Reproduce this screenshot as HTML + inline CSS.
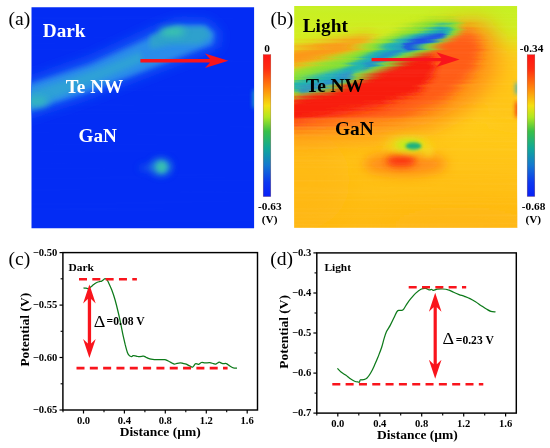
<!DOCTYPE html>
<html><head><meta charset="utf-8"><title>Figure</title>
<style>
html,body{margin:0;padding:0;background:#fff;}
body{width:550px;height:448px;overflow:hidden;}
svg{display:block;}
text{font-family:"Liberation Serif",serif;fill:#000;}
.pl{font-size:19.6px;}
.wl{font-size:19.2px;font-weight:bold;fill:#fff;}
.bl{font-size:19.4px;font-weight:bold;fill:#000;}
.cb{font-size:11.3px;font-weight:bold;}
.tk{font-size:10.6px;font-weight:bold;}
.il{font-size:11.4px;font-weight:bold;}
.dl{font-size:11.6px;font-weight:bold;}
.ax{font-size:13.5px;font-weight:bold;}
</style></head><body>
<svg width="550" height="448" viewBox="0 0 550 448">
<defs>
<filter id="b15" filterUnits="userSpaceOnUse" x="0" y="0" width="550" height="448"><feGaussianBlur stdDeviation="1.5"/></filter>
<filter id="b2" filterUnits="userSpaceOnUse" x="0" y="0" width="550" height="448"><feGaussianBlur stdDeviation="2"/></filter>
<filter id="b25" filterUnits="userSpaceOnUse" x="0" y="0" width="550" height="448"><feGaussianBlur stdDeviation="2.5"/></filter>
<filter id="b3" filterUnits="userSpaceOnUse" x="0" y="0" width="550" height="448"><feGaussianBlur stdDeviation="3.5"/></filter>
<filter id="b6" filterUnits="userSpaceOnUse" x="0" y="0" width="550" height="448"><feGaussianBlur stdDeviation="6"/></filter>
<filter id="b10" filterUnits="userSpaceOnUse" x="0" y="0" width="550" height="448"><feGaussianBlur stdDeviation="10"/></filter>
<filter id="b16" filterUnits="userSpaceOnUse" x="0" y="0" width="550" height="448"><feGaussianBlur stdDeviation="16"/></filter>
<filter id="streak" x="0" y="0" width="100%" height="100%">
  <feTurbulence type="fractalNoise" baseFrequency="0.004 0.35" numOctaves="2" seed="3" result="n"/>
  <feColorMatrix type="matrix" values="0 0 0 0 1  0 0 0 0 1  0 0 0 0 1  0.55 0 0 0 -0.22"/>
</filter>
<filter id="jag" filterUnits="userSpaceOnUse" x="280" y="0" width="250" height="240">
  <feTurbulence type="fractalNoise" baseFrequency="0.0015 0.45" numOctaves="1" seed="7" result="n"/>
  <feDisplacementMap in="SourceGraphic" in2="n" scale="9" xChannelSelector="R" yChannelSelector="A"/>
</filter>
<clipPath id="ca"><rect x="31.5" y="7.3" width="222.6" height="221"/></clipPath>
<clipPath id="cb"><rect x="294.2" y="6" width="222.9" height="221.8"/></clipPath>
<linearGradient id="jet" x1="0" y1="0" x2="0" y2="1">
 <stop offset="0" stop-color="#ff1414"/>
 <stop offset="0.10" stop-color="#ff2c10"/>
 <stop offset="0.24" stop-color="#ff8a0c"/>
 <stop offset="0.36" stop-color="#f4e010"/>
 <stop offset="0.44" stop-color="#b0e820"/>
 <stop offset="0.54" stop-color="#38c048"/>
 <stop offset="0.66" stop-color="#10a898"/>
 <stop offset="0.78" stop-color="#1478d0"/>
 <stop offset="0.90" stop-color="#0c38f0"/>
 <stop offset="1" stop-color="#0820f8"/>
</linearGradient>
<linearGradient id="bgb" x1="0" y1="0" x2="0" y2="1">
 <stop offset="0" stop-color="#c6f022"/>
 <stop offset="0.12" stop-color="#d2ee20"/>
 <stop offset="0.28" stop-color="#eee61c"/>
 <stop offset="0.45" stop-color="#ffd01a"/>
 <stop offset="0.7" stop-color="#ffc416"/>
 <stop offset="1" stop-color="#ffba12"/>
</linearGradient>
<linearGradient id="nwa" gradientUnits="userSpaceOnUse" x1="31" y1="100" x2="215" y2="34">
 <stop offset="0" stop-color="#2a9cdc"/>
 <stop offset="0.5" stop-color="#2890e0"/>
 <stop offset="0.8" stop-color="#2aa6cc"/>
 <stop offset="1" stop-color="#2aa0d0"/>
</linearGradient>
</defs>
<rect width="550" height="448" fill="#fff"/>

<!-- panel a -->
<g clip-path="url(#ca)">
<rect x="31" y="7" width="224" height="222" fill="#032cf4"/>
<rect x="31" y="7" width="224" height="222" fill="#fff" filter="url(#streak)" opacity="0.05"/>
<g filter="url(#b6)">
<polygon points="10,86 90,58 155,28 178,20 208,21 220,32 218,47 200,54 130,81 90,96 10,122" fill="#1a5cf4" opacity="0.9"/>
</g>
<g filter="url(#b25)">
<polygon points="10,91 90,65 150,38 178,26 205,26 214,33 212,44 196,50 130,76 90,91 10,117" fill="#2b8cea" opacity="1"/>
</g>
<g filter="url(#b25)">
<polygon points="10,98 60,82 100,68 140,52 143,62 100,80 60,96 10,113" fill="#30a4d4" opacity="0.85"/>
<polygon points="150,36 175,27 205,27 211,36 200,44 170,45 150,49" fill="#2ea4c8" opacity="0.85"/>
</g>
<g filter="url(#b3)">
<ellipse cx="172" cy="31.5" rx="13" ry="4.5" fill="#3ccca4" opacity="0.85"/>
<ellipse cx="38" cy="102" rx="11" ry="5" fill="#36c0b4" opacity="0.75"/>
<ellipse cx="161" cy="167" rx="10.5" ry="8.5" fill="#2ca0d0" opacity="0.95"/>
<ellipse cx="148" cy="168" rx="9" ry="3" fill="#2c80e0" opacity="0.5"/>
</g>
<g filter="url(#b2)"><ellipse cx="161.5" cy="167" rx="5" ry="5.5" fill="#38c4ac" opacity="0.85"/><rect x="253.3" y="90" width="3" height="18" fill="#30d0b0"/></g>
</g>
<polygon points="140.4,59.0 210.0,59.0 205.0,53.6 228.4,60.8 205.0,68.0 210.0,62.5 140.4,62.5" fill="#f9141c"/>
<text class="wl" x="42.8" y="36.6">Dark</text>
<text class="wl" x="65.8" y="92.5">Te NW</text>
<text class="wl" x="78.6" y="141.8">GaN</text>
<text class="pl" x="8.6" y="25.2">(a)</text>

<!-- colorbar a -->
<rect x="263.2" y="54.6" width="7.6" height="142" fill="url(#jet)" stroke="#7a2a10" stroke-opacity="0.5" stroke-width="0.5"/>
<text class="cb" x="267.2" y="51.6" text-anchor="middle">0</text>
<text class="cb" x="269.8" y="210" text-anchor="middle">-0.63</text>
<text class="cb" x="269.7" y="222.6" text-anchor="middle">(V)</text>

<!-- panel b -->
<g clip-path="url(#cb)">
<rect x="294" y="6" width="224" height="222" fill="url(#bgb)"/>
<g filter="url(#b16)">
<ellipse cx="300" cy="180" rx="50" ry="50" fill="#ffb410" opacity="0.6"/>
<ellipse cx="460" cy="225" rx="80" ry="18" fill="#ffb410" opacity="0.5"/>
</g>
<g filter="url(#b10)">
<polygon points="498,48 530,44 530,130 480,120" fill="#ffc416" opacity="0.95"/>
<polygon points="280,96 380,58 450,24 482,20 500,38 498,76 476,106 430,130 380,140 280,144" fill="#ff9416" opacity="0.95"/>
</g>
<g filter="url(#jag)">
<g filter="url(#b6)">
<polygon points="280,100 380,64 445,35 470,29 483,44 475,72 444,102 400,117 280,130" fill="#ff5c14"/>
<polygon points="280,52 330,42 365,35 380,39 340,56 280,70" fill="#ff8c14"/>
</g>
<g filter="url(#b3)">
<polygon points="280,104 361,73 415,52 432,54 436,72 418,93 380,106 280,122" fill="#f81c10"/>
</g>
<g filter="url(#b3)">
<polygon points="280,74 350,54 400,30 430,20 456,20 462,28 454,36 430,51 380,71 330,91 280,99" fill="#84e034"/>
</g>
<g filter="url(#b2)">
<polygon points="280,84 340,69 400,38 440,25 453,27 448,35 420,48 380,64 330,84 280,93" fill="#22b4b0"/>
</g>
<g filter="url(#b2)">
<polygon points="402,45 416,38 443,31 446,37 424,45 406,51" fill="#1a4ce6"/>
<polygon points="362,66 384,54 400,47 403,52 384,60 364,70" fill="#2478dc" opacity="0.75"/>
<polygon points="296,89 330,79 352,71 354,76 330,86 300,94" fill="#2484d8" opacity="0.85"/>
</g>
</g>
<g filter="url(#b6)">
<ellipse cx="405" cy="164" rx="42" ry="11" fill="#ff8614" opacity="0.95"/>
<ellipse cx="408" cy="145" rx="22" ry="6" fill="#e4ee1c" opacity="0.9"/>
</g>
<g filter="url(#b3)">
<ellipse cx="401" cy="161" rx="15" ry="5.5" fill="#fb2c10" opacity="0.95"/>
<ellipse cx="409" cy="145" rx="13" ry="4.5" fill="#b4f020" opacity="0.95"/>
<ellipse cx="428" cy="152" rx="4" ry="5" fill="#f4e428" opacity="0.8"/>
</g>
<g filter="url(#b15)">
<ellipse cx="413.5" cy="146" rx="8" ry="3.6" fill="#1cb080"/>
</g>
<rect x="294" y="6" width="224" height="222" fill="#fff" filter="url(#streak)" opacity="0.2"/>
<g filter="url(#b2)"><rect x="515.5" y="83" width="4" height="11" fill="#30b0d0"/><rect x="515.8" y="102" width="4" height="15" fill="#f02818"/></g>
</g>
<polygon points="371.6,58.0 441.4,58.0 436.4,52.3 459.6,59.6 436.4,66.9 441.4,61.2 371.6,61.2" fill="#f9141c"/>
<text class="bl" x="302.7" y="31.8">Light</text>
<text class="bl" x="306" y="92">Te NW</text>
<text class="bl" x="335" y="135">GaN</text>
<text class="pl" x="270.5" y="25.4">(b)</text>

<!-- colorbar b -->
<rect x="527.2" y="54.7" width="7.6" height="141.8" fill="url(#jet)" stroke="#7a2a10" stroke-opacity="0.5" stroke-width="0.5"/>
<text class="cb" x="531.6" y="51.6" text-anchor="middle">-0.34</text>
<text class="cb" x="533.6" y="209.9" text-anchor="middle">-0.68</text>
<text class="cb" x="533.3" y="223" text-anchor="middle">(V)</text>

<!-- plot c -->
<rect x="62.9" y="252.6" width="194.6" height="157.4" fill="#fff" stroke="#000" stroke-width="1.45"/>
<line x1="83.5" y1="410.0" x2="83.5" y2="413.5" stroke="#000" stroke-width="1.2"/>
<line x1="124.4" y1="410.0" x2="124.4" y2="413.5" stroke="#000" stroke-width="1.2"/>
<line x1="165.3" y1="410.0" x2="165.3" y2="413.5" stroke="#000" stroke-width="1.2"/>
<line x1="206.3" y1="410.0" x2="206.3" y2="413.5" stroke="#000" stroke-width="1.2"/>
<line x1="247.2" y1="410.0" x2="247.2" y2="413.5" stroke="#000" stroke-width="1.2"/>
<line x1="63.0" y1="410.0" x2="63.0" y2="412.3" stroke="#000" stroke-width="1.1"/>
<line x1="104.0" y1="410.0" x2="104.0" y2="412.3" stroke="#000" stroke-width="1.1"/>
<line x1="144.9" y1="410.0" x2="144.9" y2="412.3" stroke="#000" stroke-width="1.1"/>
<line x1="185.8" y1="410.0" x2="185.8" y2="412.3" stroke="#000" stroke-width="1.1"/>
<line x1="226.7" y1="410.0" x2="226.7" y2="412.3" stroke="#000" stroke-width="1.1"/>
<line x1="59.5" y1="252.6" x2="62.9" y2="252.6" stroke="#000" stroke-width="1.2"/>
<line x1="59.5" y1="305.1" x2="62.9" y2="305.1" stroke="#000" stroke-width="1.2"/>
<line x1="59.5" y1="357.5" x2="62.9" y2="357.5" stroke="#000" stroke-width="1.2"/>
<line x1="59.5" y1="410.0" x2="62.9" y2="410.0" stroke="#000" stroke-width="1.2"/>
<line x1="60.6" y1="278.8" x2="62.9" y2="278.8" stroke="#000" stroke-width="1.1"/>
<line x1="60.6" y1="331.3" x2="62.9" y2="331.3" stroke="#000" stroke-width="1.1"/>
<line x1="60.6" y1="383.8" x2="62.9" y2="383.8" stroke="#000" stroke-width="1.1"/>
<text class="tk" x="83.5" y="424.0" text-anchor="middle">0.0</text>
<text class="tk" x="124.4" y="424.0" text-anchor="middle">0.4</text>
<text class="tk" x="165.3" y="424.0" text-anchor="middle">0.8</text>
<text class="tk" x="206.3" y="424.0" text-anchor="middle">1.2</text>
<text class="tk" x="247.2" y="424.0" text-anchor="middle">1.6</text>
<text class="tk" x="57.3" y="255.7" text-anchor="end">−0.50</text>
<text class="tk" x="57.3" y="308.2" text-anchor="end">−0.55</text>
<text class="tk" x="57.3" y="360.6" text-anchor="end">−0.60</text>
<text class="tk" x="57.3" y="413.1" text-anchor="end">−0.65</text>
<path d="M83.5,287.8 C83.9,287.9 85.2,288.1 86.0,288.2 C86.8,288.3 87.7,288.8 88.5,288.6 C89.3,288.4 90.1,287.5 91.0,286.8 C91.9,286.1 93.0,284.9 94.0,284.2 C95.0,283.4 96.4,282.7 97.3,282.3 C98.2,281.9 98.8,281.8 99.5,281.6 C100.2,281.4 101.0,281.4 101.7,281.1 C102.4,280.8 102.9,280.2 103.5,279.8 C104.1,279.4 104.5,278.5 105.1,278.5 C105.6,278.5 106.2,279.0 106.8,279.6 C107.3,280.2 107.6,280.6 108.4,282.3 C109.2,284.0 110.7,287.1 111.8,290.0 C112.9,292.9 114.0,296.1 115.1,300.0 C116.2,303.9 117.6,309.6 118.5,313.5 C119.4,317.4 120.0,320.0 120.7,323.5 C121.4,327.0 122.2,331.1 122.9,334.6 C123.7,338.1 124.5,341.7 125.2,344.7 C126.0,347.7 126.7,350.6 127.4,352.5 C128.1,354.4 128.9,355.2 129.6,355.9 C130.3,356.6 131.2,356.5 131.8,356.5 C132.4,356.5 132.4,355.8 133.0,355.7 C133.6,355.6 134.4,355.7 135.2,355.8 C136.0,355.9 136.6,356.4 137.7,356.5 C138.8,356.6 140.9,356.4 141.9,356.3 C142.9,356.2 142.9,356.0 143.6,356.1 C144.3,356.2 145.2,356.8 146.0,357.2 C146.8,357.6 147.6,358.1 148.4,358.4 C149.2,358.7 150.0,359.0 151.0,359.2 C152.0,359.4 153.0,359.6 154.3,359.6 C155.6,359.7 157.2,359.5 159.0,359.5 C160.8,359.5 163.6,359.5 164.9,359.6 C166.2,359.8 166.2,360.0 167.0,360.4 C167.8,360.8 168.8,361.3 169.6,361.7 C170.4,362.1 171.2,362.6 172.0,363.0 C172.8,363.4 173.6,364.0 174.4,364.1 C175.2,364.2 176.0,363.6 177.0,363.4 C178.0,363.2 179.3,362.9 180.3,362.9 C181.3,362.9 182.0,363.2 183.0,363.4 C184.0,363.6 185.3,363.8 186.2,364.1 C187.1,364.4 187.7,365.0 188.5,365.4 C189.3,365.8 190.2,366.2 190.9,366.5 C191.6,366.8 192.1,367.3 192.6,367.2 C193.1,367.1 193.5,366.2 194.0,365.6 C194.5,365.0 194.9,363.8 195.7,363.6 C196.4,363.4 197.5,364.5 198.5,364.3 C199.5,364.1 200.5,362.7 201.6,362.5 C202.7,362.3 203.7,362.9 205.1,362.9 C206.5,362.9 208.4,362.6 209.8,362.7 C211.2,362.8 212.4,363.4 213.4,363.6 C214.4,363.8 215.0,364.2 215.7,364.1 C216.4,364.0 216.9,363.3 217.5,363.0 C218.1,362.7 218.4,362.1 219.3,362.2 C220.2,362.3 221.6,363.4 222.8,363.6 C224.0,363.8 225.2,363.2 226.4,363.6 C227.6,364.0 228.7,365.3 229.9,366.0 C231.1,366.7 232.3,367.5 233.5,367.9 C234.7,368.2 236.4,368.1 237.0,368.1" fill="none" stroke="#0d7a1a" stroke-width="1.25" stroke-linejoin="round"/>
<line x1="79" y1="279.3" x2="136.9" y2="279.3" stroke="#f9141c" stroke-width="2.55" stroke-dasharray="8 5.32"/>
<line x1="76.5" y1="368.1" x2="227.6" y2="368.1" stroke="#f9141c" stroke-width="2.55" stroke-dasharray="8 5.32"/>
<polygon points="89.4,284.5 95.7,303.5 91.1,299.0 91.1,343.5 95.7,339.0 89.4,358.0 83.1,339.0 87.8,343.5 87.8,299.0 83.1,303.5" fill="#f9141c"/>
<text class="il" x="68.6" y="270.7">Dark</text>
<text transform="translate(93.8,326.5) scale(1.13,1)" style="font:16px 'Liberation Serif',serif">Δ</text>
<text class="dl" x="106.6" y="325.2">=0.08 V</text>
<text class="pl" x="8.6" y="265">(c)</text>
<text class="ax" transform="translate(29.4,329.7) rotate(-90)" text-anchor="middle">Potential (V)</text>
<text class="ax" x="160.3" y="435.7" text-anchor="middle">Distance (µm)</text>

<!-- plot d -->
<rect x="316.8" y="252.9" width="199.5" height="160.2" fill="#fff" stroke="#000" stroke-width="1.45"/>
<line x1="337.8" y1="413.1" x2="337.8" y2="416.6" stroke="#000" stroke-width="1.2"/>
<line x1="379.8" y1="413.1" x2="379.8" y2="416.6" stroke="#000" stroke-width="1.2"/>
<line x1="421.7" y1="413.1" x2="421.7" y2="416.6" stroke="#000" stroke-width="1.2"/>
<line x1="463.7" y1="413.1" x2="463.7" y2="416.6" stroke="#000" stroke-width="1.2"/>
<line x1="505.6" y1="413.1" x2="505.6" y2="416.6" stroke="#000" stroke-width="1.2"/>
<line x1="316.8" y1="413.1" x2="316.8" y2="415.40000000000003" stroke="#000" stroke-width="1.1"/>
<line x1="358.8" y1="413.1" x2="358.8" y2="415.40000000000003" stroke="#000" stroke-width="1.1"/>
<line x1="400.7" y1="413.1" x2="400.7" y2="415.40000000000003" stroke="#000" stroke-width="1.1"/>
<line x1="442.7" y1="413.1" x2="442.7" y2="415.40000000000003" stroke="#000" stroke-width="1.1"/>
<line x1="484.7" y1="413.1" x2="484.7" y2="415.40000000000003" stroke="#000" stroke-width="1.1"/>
<line x1="313.40000000000003" y1="252.9" x2="316.8" y2="252.9" stroke="#000" stroke-width="1.2"/>
<line x1="313.40000000000003" y1="293.0" x2="316.8" y2="293.0" stroke="#000" stroke-width="1.2"/>
<line x1="313.40000000000003" y1="333.0" x2="316.8" y2="333.0" stroke="#000" stroke-width="1.2"/>
<line x1="313.40000000000003" y1="373.1" x2="316.8" y2="373.1" stroke="#000" stroke-width="1.2"/>
<line x1="313.40000000000003" y1="413.1" x2="316.8" y2="413.1" stroke="#000" stroke-width="1.2"/>
<line x1="314.5" y1="272.9" x2="316.8" y2="272.9" stroke="#000" stroke-width="1.1"/>
<line x1="314.5" y1="313.0" x2="316.8" y2="313.0" stroke="#000" stroke-width="1.1"/>
<line x1="314.5" y1="353.0" x2="316.8" y2="353.0" stroke="#000" stroke-width="1.1"/>
<line x1="314.5" y1="393.1" x2="316.8" y2="393.1" stroke="#000" stroke-width="1.1"/>
<text class="tk" x="337.8" y="426.6" text-anchor="middle">0.0</text>
<text class="tk" x="379.8" y="426.6" text-anchor="middle">0.4</text>
<text class="tk" x="421.7" y="426.6" text-anchor="middle">0.8</text>
<text class="tk" x="463.7" y="426.6" text-anchor="middle">1.2</text>
<text class="tk" x="505.6" y="426.6" text-anchor="middle">1.6</text>
<text class="tk" x="311.2" y="256.0" text-anchor="end">−0.3</text>
<text class="tk" x="311.2" y="296.1" text-anchor="end">−0.4</text>
<text class="tk" x="311.2" y="336.1" text-anchor="end">−0.5</text>
<text class="tk" x="311.2" y="376.2" text-anchor="end">−0.6</text>
<text class="tk" x="311.2" y="416.2" text-anchor="end">−0.7</text>
<path d="M337.4,368.4 C338.0,369.0 339.6,371.0 341.0,372.1 C342.4,373.2 344.6,374.3 346.0,375.3 C347.4,376.3 348.2,377.2 349.6,378.2 C351.0,379.2 353.2,380.6 354.6,381.2 C356.0,381.8 357.2,381.9 358.0,382.0 C358.8,382.1 359.1,382.5 359.5,382.1 C359.9,381.8 359.6,380.3 360.2,379.9 C360.8,379.5 362.0,380.0 363.1,379.7 C364.2,379.4 365.6,379.3 366.8,378.2 C368.0,377.1 369.3,375.4 370.5,373.3 C371.7,371.2 373.0,368.6 374.2,365.9 C375.4,363.2 376.7,360.4 377.9,357.3 C379.1,354.2 380.6,350.6 381.6,347.5 C382.6,344.4 383.2,341.5 384.0,338.9 C384.8,336.2 385.5,333.9 386.5,331.6 C387.5,329.4 389.0,327.6 390.2,325.4 C391.4,323.1 392.7,320.4 393.8,318.1 C394.9,315.9 396.0,313.2 396.8,311.9 C397.6,310.6 397.9,310.6 398.7,310.4 C399.5,310.1 400.9,310.6 401.7,310.4 C402.5,310.2 402.8,310.2 403.7,309.0 C404.6,307.8 406.1,305.1 407.3,303.3 C408.5,301.5 409.6,300.0 411.0,298.4 C412.4,296.8 413.9,294.9 415.5,293.4 C417.1,291.9 419.2,290.0 420.9,289.2 C422.6,288.4 424.1,288.2 425.5,288.3 C426.9,288.4 428.1,289.6 429.1,289.8 C430.2,290.0 431.1,289.4 431.8,289.5 C432.6,289.6 432.7,290.4 433.6,290.4 C434.5,290.3 435.8,289.4 437.3,289.2 C438.8,289.0 440.9,288.9 442.7,289.0 C444.5,289.1 446.4,289.3 448.2,289.9 C450.0,290.4 451.8,291.5 453.6,292.3 C455.4,293.1 457.3,293.9 459.1,294.6 C460.9,295.3 462.7,295.6 464.5,296.3 C466.3,297.0 468.2,297.7 470.0,298.6 C471.8,299.5 473.7,300.6 475.5,301.7 C477.3,302.8 479.1,304.2 480.9,305.4 C482.7,306.6 484.7,308.0 486.4,309.0 C488.1,310.0 489.4,310.9 490.9,311.4 C492.4,311.9 494.7,311.8 495.5,311.9" fill="none" stroke="#0d7a1a" stroke-width="1.25" stroke-linejoin="round"/>
<line x1="408.7" y1="287.3" x2="466.2" y2="287.3" stroke="#f9141c" stroke-width="2.55" stroke-dasharray="8 5.32"/>
<line x1="332.3" y1="384.3" x2="483.3" y2="384.3" stroke="#f9141c" stroke-width="2.55" stroke-dasharray="8 5.32"/>
<polygon points="435.2,292.8 441.5,311.8 436.8,307.3 436.8,364.3 441.5,359.8 435.2,378.8 428.9,359.8 433.6,364.3 433.6,307.3 428.9,311.8" fill="#f9141c"/>
<text class="il" x="324.4" y="271.3">Light</text>
<text transform="translate(442.6,344.3) scale(1.13,1)" style="font:16px 'Liberation Serif',serif">Δ</text>
<text class="dl" x="455.8" y="343.6">=0.23 V</text>
<text class="pl" x="270.3" y="265">(d)</text>
<text class="ax" transform="translate(287.8,331.9) rotate(-90)" text-anchor="middle">Potential (V)</text>
<text class="ax" x="417.4" y="438.8" text-anchor="middle">Distance (µm)</text>
</svg>
</body></html>
